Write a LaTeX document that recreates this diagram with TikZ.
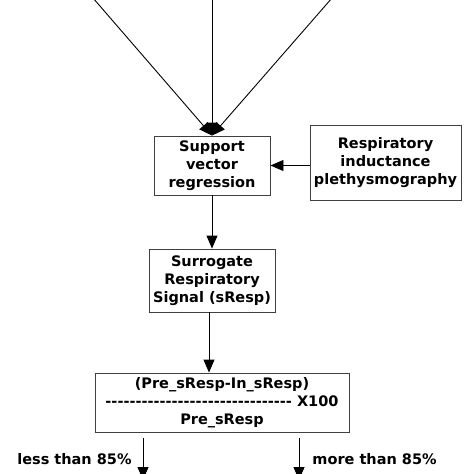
\documentclass[tikz,border=0pt]{standalone}
\usepackage{fontspec}
\setmainfont{DejaVu Sans}
\usetikzlibrary{arrows.meta}
\newcommand\dashrow[1]{\foreach \d in {1,...,#1}{-}}
\begin{document}
\begin{tikzpicture}[x=1pt, y=-1pt,
 every node/.style = {shape=rectangle, draw=black!75, line width=0.9pt,
 align=center, font=\bfseries\fontsize{14.5}{18}\selectfont, inner sep=1pt},
 link/.style = {draw, line width=0.9pt, -{Triangle[length=13pt, width=11pt]}}]
 \useasboundingbox (0,0) rectangle (474,474);
 \coordinate (inL) at (93,-2);
 \coordinate (inM) at (212,-2);
 \coordinate (inR) at (332,-2);
 \node (svr) [minimum width=116pt, minimum height=59pt] at (212,165.5)
 {Support\\vector\\regression};
 \node (rip) [minimum width=151pt, minimum height=75pt] at (385.5,162.5)
 {Respiratory\\inductance\\plethysmography};
 \node (sresp) [minimum width=126pt, minimum height=63pt] at (212,280.5)
 {Surrogate\\Respiratory\\Signal (sResp)};
 \node (ratio) [minimum width=254pt, minimum height=59pt] at (222,402.5)
 {(Pre\_sResp-In\_sResp)\\\dashrow{31} X100\\Pre\_sResp};
 \coordinate (outL) at (143,480);
 \coordinate (outR) at (299,480);
 % inputs from above
 \draw [link] (inL) -- (svr.north);
 \draw [link] (inM) -- (svr.north);
 \draw [link] (inR) -- (svr.north);
 \draw [link] (rip.west |- svr.east) -- (svr.east);
 \draw [link] (svr.south) -- (sresp.north);
 \draw [link] ([xshift=-3pt]sresp.south) -- ([xshift=-13pt]ratio.north);
 % the two outcomes
 \draw [link] (ratio.south -| outL) ++(0,6) -- (outL)
 node [draw=none, midway, left=10pt] {less than 85\%};
 \draw [link] (ratio.south -| outR) ++(0,6) -- (outR)
 node [draw=none, midway, right=12pt] {more than 85\%};
\end{tikzpicture}
\end{document}
